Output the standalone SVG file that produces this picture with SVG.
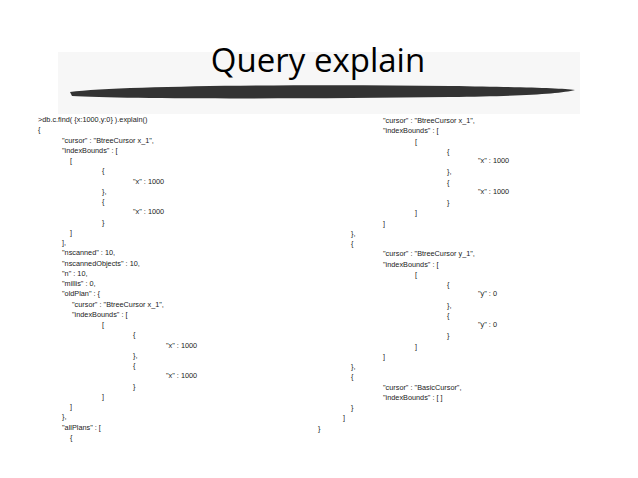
<svg xmlns="http://www.w3.org/2000/svg" width="638" height="478" viewBox="0 0 638 478">
<style>text.c{font-family:"Liberation Sans",Arial,sans-serif;font-size:7.3px;fill:#222}</style>
<rect width="638" height="478" fill="#fff"/>
<g id="title">
<rect x="58" y="52" width="522" height="62" fill="#f7f7f7"/>
<path d="M70,92 C120,86 300,84 450,86 C520,87 560,88 575,90 C560,94 520,96 450,97 C300,99 120,99 72,96 Z" fill="#333"/>
<text x="318" y="72" text-anchor="middle" font-family="'Open Sans','Noto Sans',sans-serif" font-size="33" fill="#000">Query explain</text>
</g>
<g id="left">
<text class="c" x="38" y="122">&gt;db.c.find( {x:1000,y:0} ).explain()</text>
<text class="c" x="38" y="132.3">{</text>
<text class="c" x="62" y="142.5">"cursor" : "BtreeCursor x_1",</text>
<text class="c" x="62" y="152.8">"indexBounds" : [</text>
<text class="c" x="70" y="163">[</text>
<text class="c" x="102" y="173.3">{</text>
<text class="c" x="133" y="183.5">"x" : 1000</text>
<text class="c" x="102" y="193.8">},</text>
<text class="c" x="102" y="204">{</text>
<text class="c" x="133" y="214.3">"x" : 1000</text>
<text class="c" x="102" y="224.5">}</text>
<text class="c" x="70" y="234.8">]</text>
<text class="c" x="62" y="245">],</text>
<text class="c" x="62" y="255.3">"nscanned" : 10,</text>
<text class="c" x="62" y="265.5">"nscannedObjects" : 10,</text>
<text class="c" x="62" y="275.8">"n" : 10,</text>
<text class="c" x="62" y="286">"millis" : 0,</text>
<text class="c" x="62" y="296.3">"oldPlan" : {</text>
<text class="c" x="72" y="306.5">"cursor" : "BtreeCursor x_1",</text>
<text class="c" x="72" y="316.8">"indexBounds" : [</text>
<text class="c" x="102" y="327">[</text>
<text class="c" x="133" y="337.3">{</text>
<text class="c" x="166" y="347.5">"x" : 1000</text>
<text class="c" x="133" y="357.8">},</text>
<text class="c" x="133" y="368">{</text>
<text class="c" x="166" y="378.3">"x" : 1000</text>
<text class="c" x="133" y="388.5">}</text>
<text class="c" x="102" y="398.8">]</text>
<text class="c" x="70" y="409">]</text>
<text class="c" x="62" y="419.3">},</text>
<text class="c" x="62" y="429.5">"allPlans" : [</text>
<text class="c" x="70" y="439.8">{</text>
</g>
<g id="right">
<text class="c" x="383" y="123">"cursor" : "BtreeCursor x_1",</text>
<text class="c" x="383" y="133.2">"indexBounds" : [</text>
<text class="c" x="415" y="143.5">[</text>
<text class="c" x="447" y="153.7">{</text>
<text class="c" x="478" y="163">"x" : 1000</text>
<text class="c" x="447" y="174.2">},</text>
<text class="c" x="447" y="184.5">{</text>
<text class="c" x="478" y="193.7">"x" : 1000</text>
<text class="c" x="447" y="205">}</text>
<text class="c" x="415" y="215.2">]</text>
<text class="c" x="383" y="225.5">]</text>
<text class="c" x="351" y="235.7">},</text>
<text class="c" x="351" y="246">{</text>
<text class="c" x="383" y="256.2">"cursor" : "BtreeCursor y_1",</text>
<text class="c" x="383" y="266.5">"indexBounds" : [</text>
<text class="c" x="415" y="276.7">[</text>
<text class="c" x="447" y="287">{</text>
<text class="c" x="478" y="296.2">"y" : 0</text>
<text class="c" x="447" y="307.5">},</text>
<text class="c" x="447" y="317.7">{</text>
<text class="c" x="478" y="327">"y" : 0</text>
<text class="c" x="447" y="338.2">}</text>
<text class="c" x="415" y="348.5">]</text>
<text class="c" x="383" y="358.7">]</text>
<text class="c" x="351" y="369">},</text>
<text class="c" x="351" y="379.2">{</text>
<text class="c" x="383" y="389.5">"cursor" : "BasicCursor",</text>
<text class="c" x="383" y="399.7">"indexBounds" : [ ]</text>
<text class="c" x="351" y="410">}</text>
<text class="c" x="343" y="420.2">]</text>
<text class="c" x="318" y="430.5">}</text>
</g>
</svg>
